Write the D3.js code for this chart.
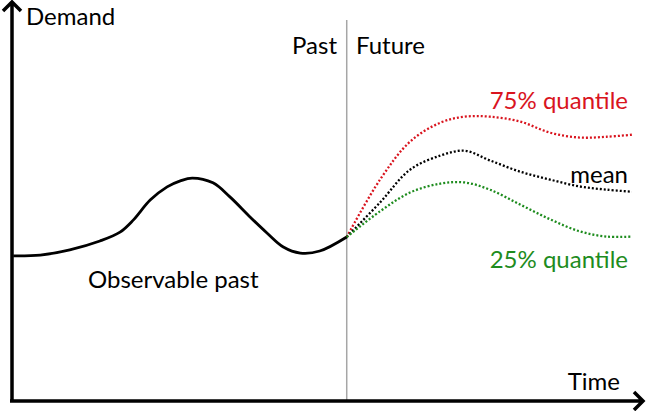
<!DOCTYPE html>
<html>
<head>
  <meta charset="utf-8">
  <title>Demand forecast quantiles</title>
  <script src="https://d3js.org/d3.v7.min.js"></script>
  <style>
    body { margin: 0; background: #fff; }
    text { font-family: Lato, "Open Sans", sans-serif; }
  </style>
</head>
<body>
  <div id="chart"></div>
<script>
  // observed history (time 0-100, demand 0-100)
  const pastTime   = [0.2, 4.5, 9.2, 14.0, 17.2, 19.3, 22.0, 24.7, 26.8, 28.7, 32.0, 34.7, 37.9, 40.6, 43.2, 45.9, 49.0, 53.3];
  const pastDemand = [36.2, 36.4, 37.7, 39.9, 42.1, 45.1, 50.1, 53.4, 54.9, 55.6, 54.4, 50.9, 45.9, 41.9, 38.4, 36.9, 37.4, 40.9];

  // forecast, shares the same time points
  const futureTime = [53.3, 58.6, 63.4, 68.2, 72.1, 76.1, 80.9, 85.7, 90.4, 94.7, 98.7];
  const q75  = [40.9, 55.2, 64.7, 69.4, 70.9, 70.9, 69.7, 66.9, 65.7, 65.9, 66.4];
  const mean = [40.9, 49.5, 57.7, 61.2, 62.4, 60.0, 57.2, 55.2, 53.5, 52.7, 52.2];
  const q25  = [40.9, 47.3, 52.0, 54.2, 54.5, 52.7, 49.0, 45.3, 42.3, 41.0, 41.0];

  const splitTime = 53.3;

  const W = 647, H = 411;
  const x = d3.scaleLinear().domain([0, 100]).range([12, 640]);
  const y = d3.scaleLinear().domain([0, 100]).range([401, 0]);

  const svg = d3.select("#chart").append("svg")
      .attr("width", W)
      .attr("height", H);

  const line = d3.line()
      .x(d => x(d[0]))
      .y(d => y(d[1]))
      .curve(d3.curveCatmullRom.alpha(0.5));

  // past / future divider
  svg.append("line")
      .attr("x1", x(splitTime)).attr("x2", x(splitTime))
      .attr("y1", 20).attr("y2", 400)
      .attr("stroke", "#a6a6a6")
      .attr("stroke-width", 1.5);

  // axes with open arrow heads
  const axis = svg.append("g")
      .attr("fill", "none")
      .attr("stroke", "#000")
      .attr("stroke-width", 3.5);
  axis.append("path")
      .attr("d", `M${x(0)},${y(0)}V2M${x(0) - 9},11L${x(0)},2L${x(0) + 9},11`);
  axis.append("path")
      .attr("d", `M${x(0) - 2},${y(0)}H643M634,${y(0) - 9}L643,${y(0)}L634,${y(0) + 9}`);

  // observed
  svg.append("path")
      .datum(d3.zip(pastTime, pastDemand))
      .attr("d", line)
      .attr("fill", "none")
      .attr("stroke", "#000")
      .attr("stroke-width", 2.8);

  const series = [
    {values: q75, color: "#d9141e"},
    {values: mean, color: "#000"},
    {values: q25, color: "#1e8c1e"}
  ];
  svg.selectAll(".fc")
    .data(series)
    .enter().append("path")
      .attr("class", "fc")
      .attr("d", s => line(d3.zip(futureTime, s.values)))
      .attr("fill", "none")
      .attr("stroke", s => s.color)
      .attr("stroke-width", 2.3)
      .attr("stroke-dasharray", "2,2");

  // labels
  const labels = [
    {t: "Demand", x: 26, y: 25, c: "#000", a: "start"},
    {t: "Past", x: 337, y: 54, c: "#000", a: "end"},
    {t: "Future", x: 356, y: 54, c: "#000", a: "start"},
    {t: "75% quantile", x: 628, y: 109, c: "#d9141e", a: "end"},
    {t: "mean", x: 628, y: 183, c: "#000", a: "end"},
    {t: "25% quantile", x: 628, y: 268, c: "#1e8c1e", a: "end"},
    {t: "Observable past", x: 88, y: 288, c: "#000", a: "start"},
    {t: "Time", x: 620, y: 390, c: "#000", a: "end"}
  ];
  svg.selectAll(".lbl")
    .data(labels)
    .enter().append("text")
      .attr("class", "lbl")
      .attr("x", d => d.x)
      .attr("y", d => d.y)
      .attr("fill", d => d.c)
      .attr("font-size", 24)
      .attr("text-anchor", d => d.a)
      .text(d => d.t);
</script>
</body>
</html>
